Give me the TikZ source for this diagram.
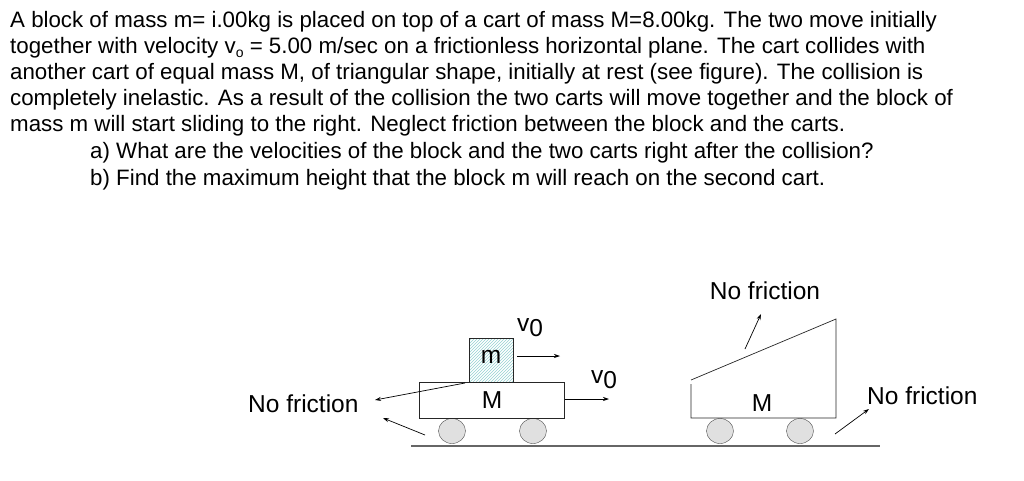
\documentclass[tikz,border=0pt]{standalone}
\usepackage{fontspec}
\setmainfont{Liberation Sans}
\usetikzlibrary{patterns,arrows.meta,shapes.geometric}
\begin{document}
\begin{tikzpicture}[x=1pt,y=-1pt,
  txt/.style={anchor=west,inner sep=0pt,font=\fontsize{22.3}{24}\selectfont},
  lbl/.style={inner sep=0pt,font=\fontsize{24.5}{26}\selectfont},
  line/.style={draw=black!85,line width=0.7pt},
  arr/.style={-{Stealth[length=6pt,width=4pt]},line width=0.7pt},
  wheel/.style={draw=black!70,fill=black!12,ellipse,minimum width=27pt,minimum height=25pt,inner sep=0pt}]
\useasboundingbox (0,0) rectangle (1024,480);
\node[txt] (t1) at (10,22) {A block of mass m= i.00kg is placed on top of a cart of mass M=8.00kg. The two move initially};
\node[txt] (t2) at (10,48) {together with velocity v\raisebox{-0.35ex}{\fontsize{14}{14}\selectfont o} = 5.00 m/sec on a frictionless horizontal plane. The cart collides with};
\node[txt] (t3) at (10,74) {another cart of equal mass M, of triangular shape, initially at rest (see figure). The collision is};
\node[txt] (t4) at (10,100) {completely inelastic. As a result of the collision the two carts will move together and the block of};
\node[txt] (t5) at (10,126) {mass m will start sliding to the right. Neglect friction between the block and the carts.};
\node[txt] (t6) at (90,153) {a) What are the velocities of the block and the two carts right after the collision?};
\node[txt] (t7) at (90,180) {b) Find the maximum height that the block m will reach on the second cart.};
% ground
\draw[draw=black!60,line width=1.4pt] (411,446) -- (880,446);
% wheels
\node[wheel] (w1) at (452,431) {};
\node[wheel] (w2) at (533,431) {};
\node[wheel] (w3) at (720,431) {};
\node[wheel] (w4) at (800,431) {};
% cart 1
\node[line,fill=white,minimum width=145pt,minimum height=36pt,inner sep=0pt,lbl] (c1) at (492,400) {M};
% block
\node[line,pattern=north east lines,pattern color=cyan!40!gray!60,minimum width=44pt,minimum height=44pt,inner sep=0pt] (b) at (491,360) {};
\node[lbl] (bm) at (491,357) {m};
% cart 2
\draw[line,fill=white] (691,384) -- (691,418) -- (836,418) -- (836,319) -- (691,380);
\node[lbl] (c2) at (762,403) {M};
% velocity arrows
\coordinate (a1) at (560,356);
\draw[arr] (b.east |- a1) ++(4,0) -- (a1);
\node[lbl,anchor=west] (v1) at (517,328) {v\raisebox{-0.4ex}{0}};
\coordinate (a2) at (609,399);
\draw[arr] (c1.east |- a2) -- (a2);
\node[lbl,anchor=west] (v2) at (591,380) {v\raisebox{-0.4ex}{0}};
% no friction labels
\node[lbl,anchor=west] (nf1) at (248,404) {No friction};
\node[lbl] (nf2) at (765,291) {No friction};
\node[lbl,anchor=west] (nf3) at (867,396) {No friction};
\coordinate (p1) at (465,383);
\coordinate (p2) at (425,435);
\coordinate (p3) at (745,349);
\coordinate (p4) at (835,434);
\coordinate (q1) at (375,400);
\draw[arr] (p1) -- (q1);
\draw[arr] (p2) -- (383,418);
\draw[arr] (p3) -- (761,314);
\draw[arr] (p4) -- (869,409);
\end{tikzpicture}
\end{document}
